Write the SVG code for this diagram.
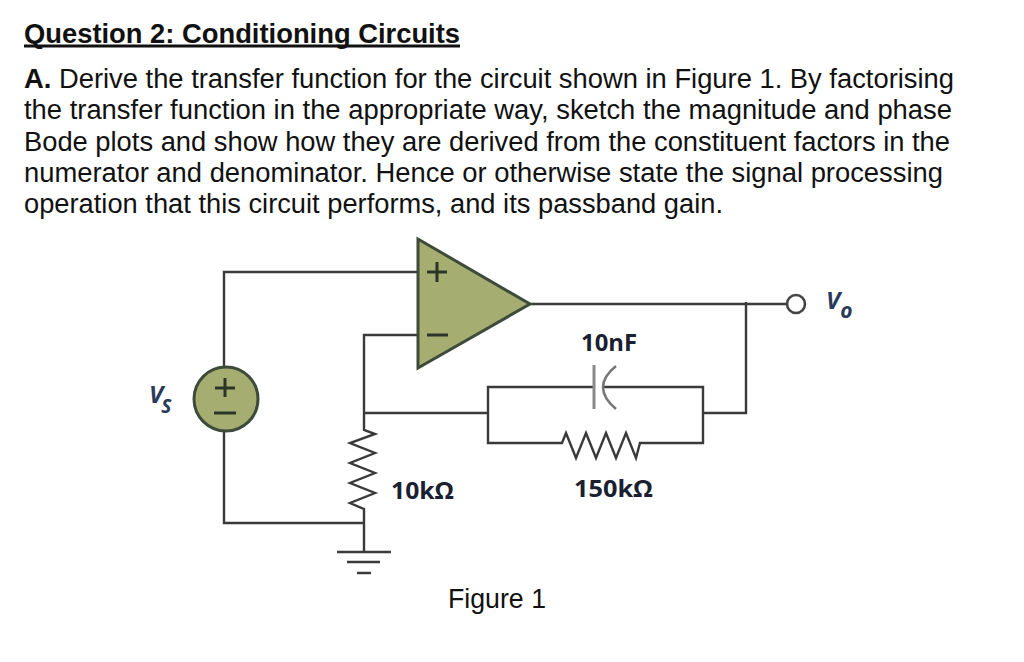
<svg xmlns="http://www.w3.org/2000/svg" width="1024" height="662" viewBox="0 0 1024 662">
<style>
.t{font-family:"Liberation Sans",Arial,sans-serif;font-size:26.8px;fill:#111}
.w{fill:none;stroke:#3a3a3a;stroke-width:2.4}
.s{fill:#a5ae70;stroke:#3f4a3a;stroke-width:3}
.l{font-family:"Open Sans","DejaVu Sans",sans-serif;font-size:22.5px;font-weight:700;fill:#1a2030}
.v{font-family:"Open Sans","DejaVu Sans",sans-serif;font-style:italic;font-weight:700;fill:#2a3a5a}
.g{fill:none;stroke:#2c3328;stroke-width:3}
</style>
<rect width="1024" height="662" fill="#fff"/>
<g id="text">
<text class="t" x="24" y="42.5" font-weight="700" textLength="436" lengthAdjust="spacingAndGlyphs">Question 2: Conditioning Circuits</text>
<line x1="24" y1="46" x2="460" y2="46" stroke="#111" stroke-width="2.8"/>
<text class="t" x="24" y="87.5" textLength="930" lengthAdjust="spacingAndGlyphs"><tspan font-weight="700">A.</tspan> Derive the transfer function for the circuit shown in Figure 1. By factorising</text>
<text class="t" x="24" y="118.5" textLength="928" lengthAdjust="spacingAndGlyphs">the transfer function in the appropriate way, sketch the magnitude and phase</text>
<text class="t" x="24" y="150.5" textLength="926" lengthAdjust="spacingAndGlyphs">Bode plots and show how they are derived from the constituent factors in the</text>
<text class="t" x="24" y="181.5" textLength="919" lengthAdjust="spacingAndGlyphs">numerator and denominator. Hence or otherwise state the signal processing</text>
<text class="t" x="24" y="212.5" textLength="699" lengthAdjust="spacingAndGlyphs">operation that this circuit performs, and its passband gain.</text>
<text class="t" x="448" y="607.5" textLength="98" lengthAdjust="spacingAndGlyphs">Figure 1</text>
</g>
<g id="connectors">
<path class="w" d="M418 272H224V367M224 432V523H364"/>
<path class="w" d="M418 335H364V430L375 434 350 443 375 453 350 463 375 473 350 483 375 493 350 503 364 509V552"/>
<path class="w" d="M364 413H488"/>
<path class="w" d="M530 304H796"/>
<path class="w" d="M746 302V413H703"/>
<path class="w" d="M594 387H488V443H562L566 433 576 458 586 433 596 458 606 433 616 458 626 433 636 458 640 443H703V387H603"/>
</g>
<g id="opamp">
<path class="s" d="M418 239V368L530 304Z"/>
<path class="g" d="M427 272H447M437 262V282M427 335H448"/>
</g>
<g id="source">
<circle class="s" cx="226" cy="399" r="32"/>
<path class="g" d="M215 388H235M225 378V397M214 413H236"/>
<text class="v" x="149" y="403" font-size="24">V<tspan font-size="19" dx="-2" dy="10">S</tspan></text>
</g>
<g id="ground">
<path class="w" d="M337 552H391M347 562H380M357 573H371"/>
</g>
<g id="r1">
<text class="l" x="391" y="499" textLength="63" lengthAdjust="spacingAndGlyphs">10kΩ</text>
</g>
<g id="c1">
<line x1="594" y1="365" x2="594" y2="409" stroke="#8a8a8a" stroke-width="3"/>
<path d="M616 366Q590 387 616 409" fill="none" stroke="#777" stroke-width="2.6"/>
<text class="l" x="581" y="351" textLength="56" lengthAdjust="spacingAndGlyphs">10nF</text>
</g>
<g id="r2">
<text class="l" x="574" y="497" textLength="79" lengthAdjust="spacingAndGlyphs">150kΩ</text>
</g>
<g id="output">
<circle cx="796" cy="304" r="9" fill="#fff" stroke="#444" stroke-width="2.6"/>
<text class="v" x="826" y="309" font-size="24">V<tspan font-size="21" dy="9">o</tspan></text>
</g>
</svg>
